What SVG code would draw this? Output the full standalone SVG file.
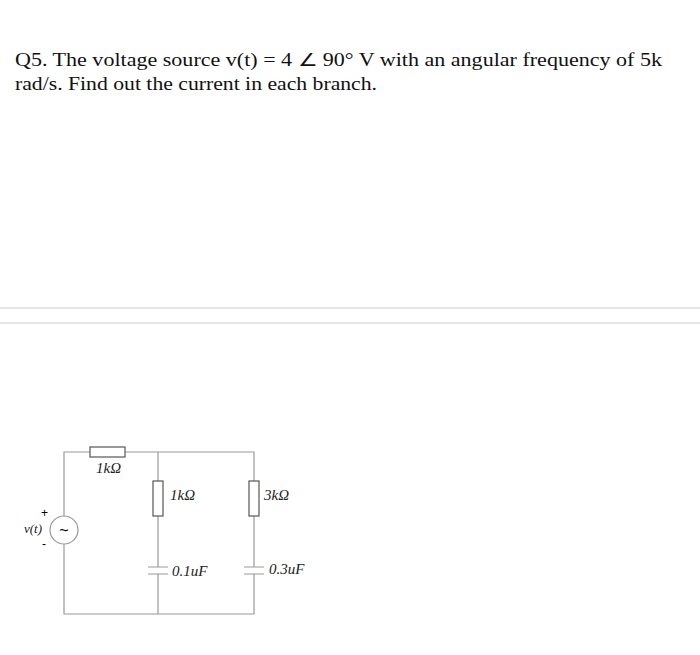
<svg xmlns="http://www.w3.org/2000/svg" width="700" height="655" viewBox="0 0 700 655">
<style>
.t{font-family:"Liberation Serif",serif;font-size:18px;fill:#111}
.l{font-family:"Liberation Serif",serif;font-style:italic;font-size:15px;fill:#222}
.w{stroke:#999;stroke-width:1.2;fill:none}
.r{stroke:#555;stroke-width:1.2;fill:#fff}
</style>
<rect width="700" height="655" fill="#fff"/>
<text class="t" x="15" y="66" textLength="647" lengthAdjust="spacingAndGlyphs">Q5. The voltage source v(t) = 4 ∠ 90° V with an angular frequency of 5k</text>
<text class="t" x="15" y="90" textLength="362" lengthAdjust="spacingAndGlyphs">rad/s. Find out the current in each branch.</text>
<line x1="0" y1="308" x2="700" y2="308" stroke="#ccc"/>
<line x1="0" y1="323" x2="700" y2="323" stroke="#ccc"/>
<g id="wires">
<path class="w" d="M64 516 V452 H90 M125 452 H254 V481 M254 516 V567 M254 574 V614 H64 V544 M158 452 V481 M158 516 V567 M158 574 V614"/>
</g>
<g id="R1"><rect class="r" x="90" y="447" width="35" height="10"/><text class="l" x="96" y="473">1kΩ</text></g>
<g id="R2"><rect class="r" x="153" y="481" width="10" height="35"/><text class="l" x="170" y="500">1kΩ</text></g>
<g id="R3"><rect class="r" x="249" y="481" width="10" height="35"/><text class="l" x="264" y="500">3kΩ</text></g>
<g id="C1"><path class="w" d="M148 567 H168 M148 574 H168"/><text class="l" x="172" y="576">0.1uF</text></g>
<g id="C2"><path class="w" d="M244 567 H264 M244 574 H264"/><text class="l" x="269" y="574">0.3uF</text></g>
<g id="V"><circle class="w" cx="64" cy="530" r="14" stroke="#555"/><text x="64" y="536" text-anchor="middle" style="font-family:'Liberation Sans',sans-serif;font-size:16px">~</text>
<text class="l" x="24" y="533" style="font-size:13px">v(t)</text>
<text x="41" y="517" style="font-family:'Liberation Sans',sans-serif;font-size:12px">+</text>
<text x="42" y="548" style="font-family:'Liberation Sans',sans-serif;font-size:12px">-</text></g>
</svg>
